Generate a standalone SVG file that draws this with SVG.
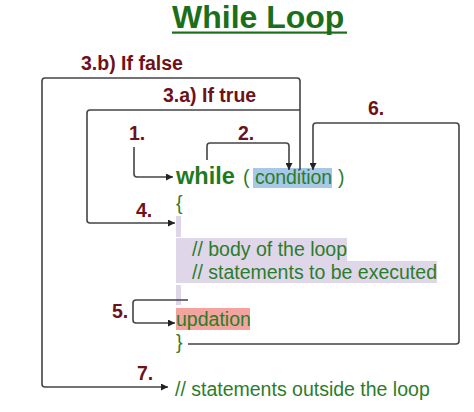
<svg xmlns="http://www.w3.org/2000/svg" width="474" height="412" viewBox="0 0 474 412">
<defs>
<marker id="ah" viewBox="0 0 10 10" refX="10" refY="5" markerWidth="7" markerHeight="7" markerUnits="userSpaceOnUse" orient="auto">
<path d="M0,0 L10,5 L0,10 Z" fill="#222"/>
</marker>
<style>
.lbl{font-family:"Liberation Sans",Arial,sans-serif;font-weight:bold;font-size:19.5px;fill:#6e1118}
.code{font-family:"Liberation Sans",Arial,sans-serif;font-size:19.5px;fill:#2a7d2a}
.ln{fill:none;stroke:#444;stroke-width:1.6;stroke-linejoin:round}
.arr{marker-end:url(#ah)}
</style>
</defs>
<rect width="474" height="412" fill="#fff"/>
<g id="title">
<text x="172" y="28" font-family="Liberation Sans,Arial,sans-serif" font-weight="bold" font-size="32" fill="#1b6f1b">While Loop</text>
<rect x="172" y="31.5" width="175" height="2.2" fill="#1b6f1b"/>
</g>
<g id="highlights">
<rect x="253" y="168" width="79" height="20" fill="#a8c8e8"/>
<rect x="176" y="216" width="5" height="21" fill="#e0d6ea"/>
<rect x="176" y="238" width="171" height="23" fill="#e0d6ea"/>
<rect x="176" y="261" width="261" height="22" fill="#e0d6ea"/>
<rect x="176" y="285" width="5" height="20" fill="#e0d6ea"/>
<rect x="176" y="308" width="74" height="22" fill="#f4a49e"/>
</g>
<g id="code">
<text x="176" y="184" font-family="Liberation Sans,Arial,sans-serif" font-weight="bold" font-size="23.5" fill="#1e7a1e">while</text>
<text class="code" x="243" y="184">(</text>
<text class="code" x="255" y="184" textLength="77">condition</text>
<text class="code" x="338" y="184">)</text>
<text class="code" x="176" y="210">{</text>
<text class="code" x="192" y="256">// body of the loop</text>
<text class="code" x="192" y="279">// statements to be executed</text>
<text class="code" x="176" y="326">updation</text>
<text class="code" x="176" y="349">}</text>
<text class="code" x="175" y="396">// statements outside the loop</text>
</g>
<g id="labels">
<text class="lbl" x="81" y="70">3.b) If false</text>
<text class="lbl" x="163" y="102">3.a) If true</text>
<text class="lbl" x="368" y="115">6.</text>
<text class="lbl" x="129" y="140">1.</text>
<text class="lbl" x="238" y="140">2.</text>
<text class="lbl" x="136" y="217">4.</text>
<text class="lbl" x="112" y="318">5.</text>
<text class="lbl" x="137" y="380">7.</text>
</g>
<g id="connectors">
<path class="ln arr" d="M42,81 Q42,78 45,78 L297,78 Q300,78 300,81 L300,170 M42,81 L42,384 Q42,387 45,387 L168,387"/>
<path class="ln arr" d="M300,110 L90,110 Q87,110 87,113 L87,220 Q87,223 90,223 L175,223"/>
<path class="ln arr" d="M134,147 L134,174 Q134,177 137,177 L173,177"/>
<path class="ln arr" d="M207,160 L207,146 Q207,143 210,143 L286,143 Q289,143 289,146 L289,170"/>
<path class="ln arr" d="M188,344 L456,344 Q459,344 459,341 L459,126 Q459,123 456,123 L316,123 Q313,123 313,126 L313,170"/>
<path class="ln arr" d="M188,300 L136,300 Q133,300 133,303 L133,320 Q133,323 136,323 L175,323"/>
</g>
</svg>
